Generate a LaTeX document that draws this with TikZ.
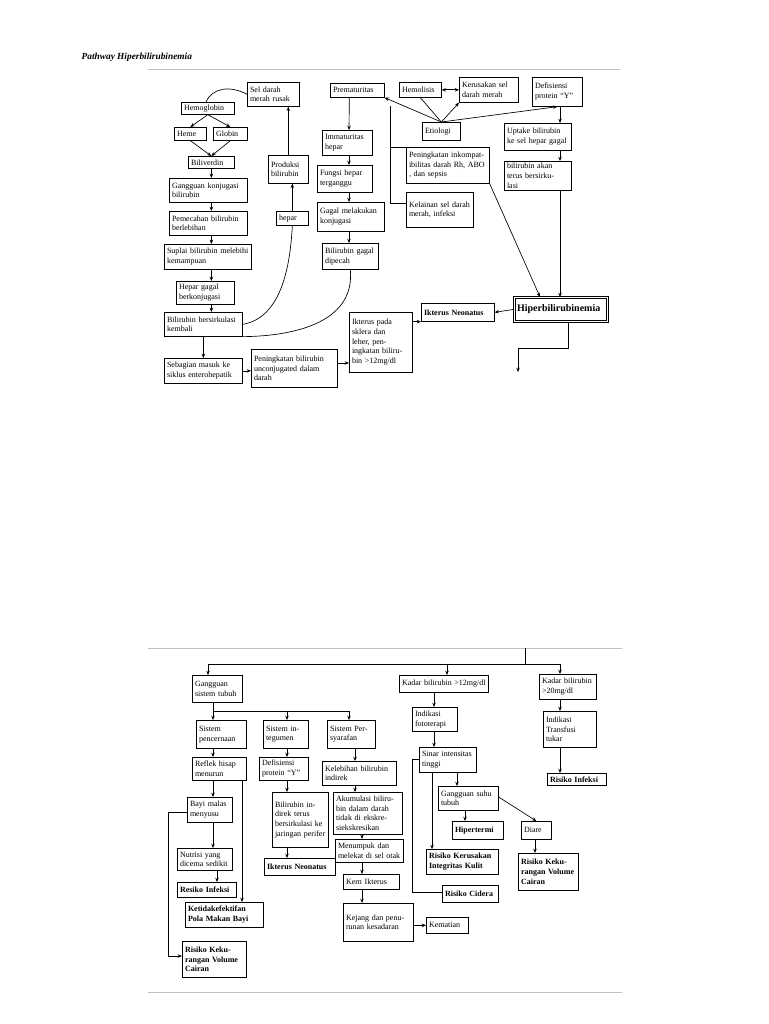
\documentclass[tikz,border=0pt]{standalone}
\usepackage{fontspec}
\setmainfont{Liberation Serif}
\usetikzlibrary{arrows.meta}
\tikzset{
  box/.style={draw,line width=0.5pt,inner sep=1.5pt,align=left,font=\fontsize{6}{7.3}\selectfont},
  arr/.style={line width=0.5pt,-{Stealth[length=3.2pt,width=2.6pt]}},
  ln/.style={line width=0.5pt},
  frame/.style={line width=0.4pt,gray!50}
}
\newcommand\bx[7][]{\pgfmathsetlengthmacro\bxw{(#4-#2)*0.75pt}\pgfmathsetlengthmacro\bxh{(#5-#3)*0.75pt}\pgfmathsetlengthmacro\bxt{(#4-#2)*0.75pt-4pt}%
\node[box,#1,anchor=north west,minimum width=\bxw,minimum height=\bxh,text width=\bxt] (#6) at (#2,#3) {#7};}
\begin{document}
\begin{tikzpicture}[x=0.75pt,y=-0.75pt]
\useasboundingbox (0,0) rectangle (768,1024);
\node[anchor=west,font=\fontsize{7}{8}\selectfont\bfseries\itshape] (title) at (77,57) {Pathway Hiperbilirubinemia};
\draw[frame] (148,69) -- (620,69);
\draw[frame] (148,648) -- (622,648);
\draw[frame] (148,992) -- (622,992);
% ---------- top part
\bx{247}{82}{299}{106}{sel}{Sel darah merah rusak}
\bx{181}{102}{234}{114}{hb}{\centering Hemoglobin}
\bx{174}{127}{206}{140}{heme}{\centering Heme}
\bx{213}{127}{247}{140}{glob}{\centering Globin}
\bx{188}{156}{234}{168}{bv}{\centering Biliverdin}
\bx{169}{178}{247}{202}{gk}{Gangguan konjugasi bilirubin}
\bx{169}{211}{247}{235}{pb}{Pemecahan bilirubin berlebihan}
\bx{164}{244}{251}{269}{sup}{Suplai bilirubin melebihi kemampuan}
\bx{176}{281}{234}{304}{hg}{Hepar gagal berkonjugasi}
\bx{164}{312}{242}{336}{bk}{Bilirubin bersirkulasi kembali}
\bx{164}{358}{242}{383}{seb}{Sebagian masuk ke siklus enterohepatik}
\bx{251}{349}{337}{387}{pu}{Peningkatan bilirubin unconjugated dalam darah}
\bx{349}{312}{412}{372}{skl}{Ikterus pada sklera dan leher, peningkatan bilirubin >12mg/dl}
\bx[font=\fontsize{6}{7.3}\selectfont\bfseries]{421}{303}{494}{321}{neo}{\centering Ikterus Neonatus}
\bx[double,double distance=1pt,font=\fontsize{7.5}{9}\selectfont\bfseries]{514}{297}{607}{321}{hip}{\centering Hiperbilirubinemia}
\bx{268}{155}{308}{183}{prod}{\centering Produksi bilirubin}
\bx{276}{211}{308}{225}{hep}{\centering hepar}
\bx{330}{83}{384}{97}{prem}{\centering Prematuritas}
\bx{322}{130}{372}{155}{imm}{Immaturitas hepar}
\bx{317}{165}{372}{192}{fh}{Fungsi hepar terganggu}
\bx{317}{202}{384}{231}{gm}{Gagal melakukan konjugasi}
\bx{322}{243}{378}{269}{bgd}{Bilirubin gagal dipecah}
\bx{399}{82}{441}{97}{hem}{\centering Hemolisis}
\bx{459}{77}{518}{102}{ker}{Kerusakan sel darah merah}
\bx{532}{77}{582}{106}{def}{\centering Defisiensi protein ``Y''}
\bx{422}{122}{460}{140}{eti}{\centering Etiologi}
\bx{504}{123}{571}{150}{upt}{Uptake bilirubin ke sel hepar gagal}
\bx{504}{161}{571}{187}{bat}{bilirubin akan terus bersirkulasi}
\bx{406}{147}{489}{183}{pin}{Peningkatan inkompatibilitas darah Rh, ABO , dan sepsis}
\bx{406}{192}{473}{227}{kel}{Kelainan sel darah merah, infeksi}
% top connectors
\draw[ln] (hb.north west) ++(25,0) .. controls (212,88) and (230,85) .. (sel.west);
\draw[arr] (hb.south) -- (heme.north);
\draw[arr] (hb.south) -- (glob.north);
\draw[arr] (heme.south) -- (bv.north);
\draw[arr] (glob.south) -- (bv.north);
\draw[arr] (bv.south) -- (bv.south |- gk.north);
\draw[arr] (bv.south |- gk.south) -- (bv.south |- pb.north);
\draw[arr] (bv.south |- pb.south) -- (bv.south |- sup.north);
\draw[arr] (bv.south |- sup.south) -- (bv.south |- hg.north);
\draw[arr] (bv.south |- hg.south) -- (bv.south |- bk.north);
\draw[arr] (bk.south) -- (bk.south |- seb.north);
\draw[arr] (seb.east) -- (seb.east -| pu.west);
\draw[arr] (pu.east |- 0,363) -- (skl.west |- 0,363);
\draw[arr] (hep.north) -- (hep.north |- prod.south);
\draw[arr] (prod.north) -- (prod.north |- sel.south);
\draw[ln] (bk.east) .. controls (280,318) and (290,270) .. (hep.south);
\draw[ln] (bgd.south) .. controls (355,320) and (300,336) .. (bk.south east);
\draw[arr] (prem.south) ++(-8,0) -- (imm.north -| 349,0);
\draw[arr] (imm.south -| 349,0) -- (fh.north -| 349,0);
\draw[arr] (fh.south -| 349,0) -- (gm.north -| 349,0);
\draw[arr] (gm.south -| 349,0) -- (bgd.north -| 349,0);
\draw[arr] (eti.north) -- (prem.south east);
\draw[ln] (eti.north) -- (hem.south);
\draw[arr] (eti.north) -- (ker.south west);
\draw[arr] (eti.north) -- (def.south);
\draw[arr,{Stealth[length=3.2pt,width=2.6pt]}-{Stealth[length=3.2pt,width=2.6pt]}] (hem.east) -- (hem.east -| ker.west);
\coordinate (vb) at (390,106);
\draw[ln] (vb) -- (390,203) -- (kel.west |- 0,203);
\draw[ln] (390,147) -- (pin.north west);
\draw[arr] (def.south -| 560,0) -- (upt.north -| 560,0);
\draw[arr] (upt.south -| 560,0) -- (bat.north -| 560,0);
\draw[arr] (bat.south -| 560,0) -- (hip.north -| 560,0);
\draw[arr] (pin.south east) -- (hip.north -| 540,0);
\draw[arr] (hip.west) -- (neo.east);
\draw[arr] (skl.east |- neo.south) -- (neo.south west);
\coordinate (hend) at (518,372);
\draw[arr] (hip.south -| 568,0) -- (568,348) -| (hend);
% ---------- bottom part
\coordinate (bt) at (525,648);
\bx{192}{675}{242}{702}{gst}{Gangguan sistem tubuh}
\bx{399}{675}{488}{692}{k12}{Kadar bilirubin >12mg/dl}
\bx{539}{674}{596}{699}{k20}{Kadar bilirubin >20mg/dl}
\bx{196}{720}{246}{748}{spc}{Sistem pencernaan}
\bx{263}{720}{308}{748}{sin}{Sistem integumen}
\bx{327}{720}{375}{748}{spy}{Sistem Persyarafan}
\bx{192}{757}{246}{780}{ref}{Reflek hisap menurun}
\bx{259}{757}{308}{780}{dpy}{Defisiensi protein ``Y''}
\bx{322}{761}{396}{785}{kbi}{Kelebihan bilirubin indirek}
\bx{187}{797}{232}{822}{bay}{Bayi malas menyusu}
\bx{272}{792}{328}{847}{bit}{Bilirubin indirek terus bersirkulasi ke jaringan perifer}
\bx{333}{792}{402}{834}{aku}{Akumulasi bilirubin dalam darah tidak di ekskresiekskresikan}
\bx{335}{839}{403}{862}{men}{Menumpuk dan melekat di sel otak}
\bx[font=\fontsize{6}{7.3}\selectfont\bfseries]{264}{858}{335}{875}{ikn}{Ikterus Neonatus}
\bx{177}{848}{232}{870}{nut}{Nutrisi yang dicerna sedikit}
\bx[font=\fontsize{6}{7.3}\selectfont\bfseries]{177}{882}{236}{897}{rin}{Resiko Infeksi}
\bx[font=\fontsize{6}{7.3}\selectfont\bfseries]{185}{902}{263}{927}{ket}{Ketidakefektifan Pola Makan Bayi}
\bx[font=\fontsize{6}{7.3}\selectfont\bfseries]{182}{941}{246}{977}{rkv}{Risiko Kekurangan Volume Cairan}
\bx{343}{874}{399}{889}{kern}{Kern Ikterus}
\bx{343}{903}{413}{941}{kej}{Kejang dan penurunan kesadaran}
\bx{426}{917}{468}{933}{kem}{Kematian}
\bx{412}{707}{457}{731}{ifo}{Indikasi fototerapi}
\bx{419}{747}{476}{772}{sit}{Sinar intensitas tinggi}
\bx{438}{786}{498}{810}{gsu}{Gangguan suhu tubuh}
\bx[font=\fontsize{6}{7.3}\selectfont\bfseries]{452}{821}{503}{839}{hpt}{Hipertermi}
\bx{521}{821}{551}{839}{dia}{Diare}
\bx[font=\fontsize{6}{7.3}\selectfont\bfseries]{426}{849}{498}{874}{rki}{Risiko Kerusakan Integritas Kulit}
\bx[font=\fontsize{6}{7.3}\selectfont\bfseries]{442}{885}{498}{902}{rci}{Risiko Cidera}
\bx[font=\fontsize{6}{7.3}\selectfont\bfseries]{518}{853}{578}{890}{rkv2}{Risiko Kekurangan Volume Cairan}
\bx{543}{711}{596}{747}{itt}{Indikasi Transfusi tukar}
\bx[font=\fontsize{6}{7.3}\selectfont\bfseries]{547}{773}{606}{785}{rif}{Risiko Infeksi}
% bottom connectors
\draw[ln] (bt) -- (525,664);
\draw[ln] (208,664) -- (560,664);
\draw[arr] (208,664) -- (gst.north -| 208,0);
\draw[arr] (447,664) -- (k12.north -| 447,0);
\draw[arr] (560,664) -- (k20.north -| 560,0);
\draw[arr] (gst.south -| 213,0) -- (spc.north -| 213,0);
\draw[ln] (213,711) -- (349,711);
\draw[arr] (287,711) -- (sin.north -| 287,0);
\draw[arr] (349,711) -- (spy.north -| 349,0);
\draw[arr] (spc.south -| 213,0) -- (ref.north -| 213,0);
\draw[arr] (ref.south -| 213,0) -- (bay.north -| 213,0);
\draw[arr] (ref.south -| 242,0) -- (ket.north -| 242,0);
\draw[arr] (bay.south -| 213,0) -- (nut.north -| 213,0);
\draw[arr] (nut.south -| 217,0) -- (rin.north -| 217,0);
\draw[arr] (bay.west |- 0,812) -- (168,812) |- (rkv.west |- 0,956);
\draw[arr] (sin.south -| 287,0) -- (dpy.north -| 287,0);
\draw[arr] (dpy.south -| 287,0) -- (bit.north -| 287,0);
\draw[arr] (bit.south -| 287,0) -- (ikn.north -| 287,0);
\draw[arr] (spy.south -| 355,0) -- (kbi.north -| 355,0);
\draw[arr] (kbi.south -| 355,0) -- (aku.north -| 355,0);
\draw[arr] (aku.south -| 362,0) -- (men.north -| 362,0);
\draw[arr] (men.south -| 362,0) -- (kern.north -| 362,0);
\draw[arr] (kern.south -| 362,0) -- (kej.north -| 362,0);
\draw[arr] (kej.east |- kem.west) -- (kem.west);
\draw[arr] (k12.south -| 434,0) -- (ifo.north -| 434,0);
\draw[arr] (ifo.south -| 434,0) -- (sit.north -| 434,0);
\draw[arr] (sit.south -| 457,0) -- (gsu.north -| 457,0);
\draw[arr] (sit.south -| 432,0) -- (rki.north -| 432,0);
\draw[ln] (sit.west |- 0,759) -- (412,759) |- (rci.west |- 0,892);
\draw[arr] (gsu.south -| 465,0) -- (hpt.north -| 465,0);
\draw[arr] (gsu.east |- 0,797) -- (dia.north);
\draw[arr] (dia.south -| 535,0) -- (rkv2.north -| 535,0);
\draw[arr] (k20.south -| 560,0) -- (itt.north -| 560,0);
\draw[arr] (itt.south -| 560,0) -- (rif.north -| 560,0);
\end{tikzpicture}
\end{document}
